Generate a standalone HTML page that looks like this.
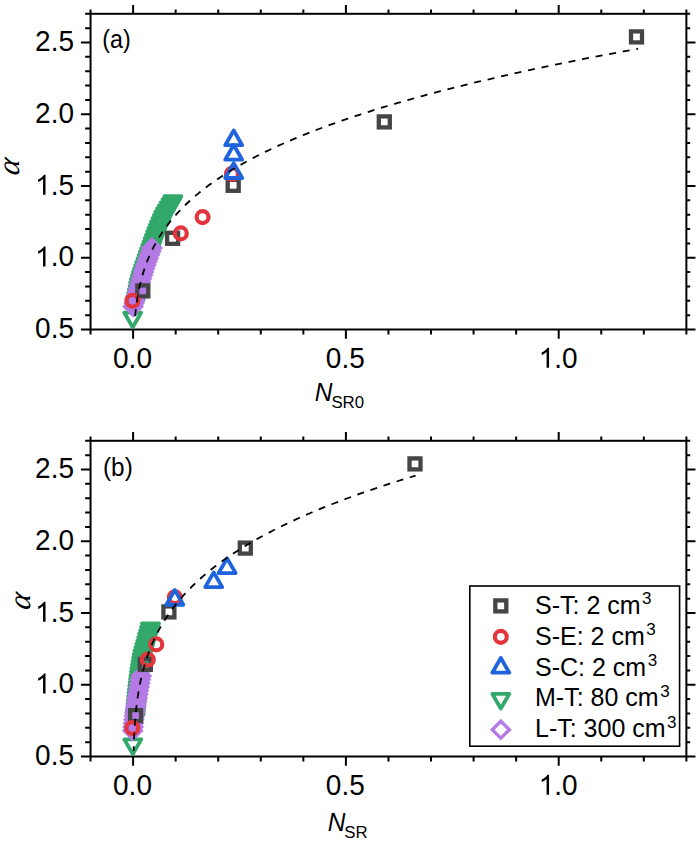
<!DOCTYPE html>
<html><head><meta charset="utf-8"><style>html,body{margin:0;padding:0;background:#fff;width:700px;height:843px;overflow:hidden}svg{display:block}</style></head><body>
<svg width="700" height="843" viewBox="0 0 700 843">
<style>.tl{font-family:"Liberation Sans",sans-serif;font-size:28px;fill:#000}.lg{font-family:"Liberation Sans",sans-serif;font-size:25px;fill:#000}</style>
<rect width="700" height="843" fill="#fff"/>
<rect x="90.54" y="13.80" width="595.84" height="315.70" fill="none" stroke="#000" stroke-width="2.0"/>
<path d="M90.54 329.50v5 M90.54 13.80v-4.3 M133.10 329.50v9.2 M133.10 13.80v-8.7 M175.66 329.50v5 M175.66 13.80v-4.3 M218.22 329.50v5 M218.22 13.80v-4.3 M260.78 329.50v5 M260.78 13.80v-4.3 M303.34 329.50v5 M303.34 13.80v-4.3 M345.90 329.50v9.2 M345.90 13.80v-8.7 M388.46 329.50v5 M388.46 13.80v-4.3 M431.02 329.50v5 M431.02 13.80v-4.3 M473.58 329.50v5 M473.58 13.80v-4.3 M516.14 329.50v5 M516.14 13.80v-4.3 M558.70 329.50v9.2 M558.70 13.80v-8.7 M601.26 329.50v5 M601.26 13.80v-4.3 M643.82 329.50v5 M643.82 13.80v-4.3 M686.38 329.50v5 M686.38 13.80v-4.3 M90.54 329.50h-9.6 M686.38 329.50h9.1 M90.54 315.15h-5.4 M686.38 315.15h3.8 M90.54 300.80h-5.4 M686.38 300.80h3.8 M90.54 286.45h-5.4 M686.38 286.45h3.8 M90.54 272.10h-5.4 M686.38 272.10h3.8 M90.54 257.75h-9.6 M686.38 257.75h9.1 M90.54 243.40h-5.4 M686.38 243.40h3.8 M90.54 229.05h-5.4 M686.38 229.05h3.8 M90.54 214.70h-5.4 M686.38 214.70h3.8 M90.54 200.35h-5.4 M686.38 200.35h3.8 M90.54 186.00h-9.6 M686.38 186.00h9.1 M90.54 171.65h-5.4 M686.38 171.65h3.8 M90.54 157.30h-5.4 M686.38 157.30h3.8 M90.54 142.95h-5.4 M686.38 142.95h3.8 M90.54 128.60h-5.4 M686.38 128.60h3.8 M90.54 114.25h-9.6 M686.38 114.25h9.1 M90.54 99.90h-5.4 M686.38 99.90h3.8 M90.54 85.55h-5.4 M686.38 85.55h3.8 M90.54 71.20h-5.4 M686.38 71.20h3.8 M90.54 56.85h-5.4 M686.38 56.85h3.8 M90.54 42.50h-9.6 M686.38 42.50h9.1 M90.54 28.15h-5.4 M686.38 28.15h3.8 M90.54 13.80h-5.4 M686.38 13.80h3.8" stroke="#000" stroke-width="2.0" fill="none"/>
<text transform="translate(35.08,338.20) scale(1,1.04)" class="tl">0.5</text>
<path transform="translate(35.08,266.45) scale(0.01367,-0.01367)" d="M763 0L583 0L583 1147C540 1106 483 1065 413 1024C342 983 279 952 223 931L223 1105C324 1152 412 1210 487 1277C562 1344 615 1407 646 1466L763 1466Z" fill="#000"/>
<text transform="translate(50.65,266.45) scale(1,1.04)" class="tl">.0</text>
<path transform="translate(35.08,194.70) scale(0.01367,-0.01367)" d="M763 0L583 0L583 1147C540 1106 483 1065 413 1024C342 983 279 952 223 931L223 1105C324 1152 412 1210 487 1277C562 1344 615 1407 646 1466L763 1466Z" fill="#000"/>
<text transform="translate(50.65,194.70) scale(1,1.04)" class="tl">.5</text>
<text transform="translate(35.08,122.95) scale(1,1.04)" class="tl">2.0</text>
<text transform="translate(35.08,51.20) scale(1,1.04)" class="tl">2.5</text>
<text transform="translate(113.04,367.70) scale(1,1.04)" class="tl">0.0</text>
<text transform="translate(325.84,367.70) scale(1,1.04)" class="tl">0.5</text>
<path transform="translate(538.64,367.70) scale(0.01367,-0.01367)" d="M763 0L583 0L583 1147C540 1106 483 1065 413 1024C342 983 279 952 223 931L223 1105C324 1152 412 1210 487 1277C562 1344 615 1407 646 1466L763 1466Z" fill="#000"/>
<text transform="translate(554.21,367.70) scale(1,1.04)" class="tl">.0</text>
<rect x="90.54" y="440.80" width="595.84" height="315.70" fill="none" stroke="#000" stroke-width="2.0"/>
<path d="M90.54 756.50v5 M90.54 440.80v-4.3 M133.10 756.50v9.2 M133.10 440.80v-8.7 M175.66 756.50v5 M175.66 440.80v-4.3 M218.22 756.50v5 M218.22 440.80v-4.3 M260.78 756.50v5 M260.78 440.80v-4.3 M303.34 756.50v5 M303.34 440.80v-4.3 M345.90 756.50v9.2 M345.90 440.80v-8.7 M388.46 756.50v5 M388.46 440.80v-4.3 M431.02 756.50v5 M431.02 440.80v-4.3 M473.58 756.50v5 M473.58 440.80v-4.3 M516.14 756.50v5 M516.14 440.80v-4.3 M558.70 756.50v9.2 M558.70 440.80v-8.7 M601.26 756.50v5 M601.26 440.80v-4.3 M643.82 756.50v5 M643.82 440.80v-4.3 M686.38 756.50v5 M686.38 440.80v-4.3 M90.54 756.50h-9.6 M686.38 756.50h9.1 M90.54 742.15h-5.4 M686.38 742.15h3.8 M90.54 727.80h-5.4 M686.38 727.80h3.8 M90.54 713.45h-5.4 M686.38 713.45h3.8 M90.54 699.10h-5.4 M686.38 699.10h3.8 M90.54 684.75h-9.6 M686.38 684.75h9.1 M90.54 670.40h-5.4 M686.38 670.40h3.8 M90.54 656.05h-5.4 M686.38 656.05h3.8 M90.54 641.70h-5.4 M686.38 641.70h3.8 M90.54 627.35h-5.4 M686.38 627.35h3.8 M90.54 613.00h-9.6 M686.38 613.00h9.1 M90.54 598.65h-5.4 M686.38 598.65h3.8 M90.54 584.30h-5.4 M686.38 584.30h3.8 M90.54 569.95h-5.4 M686.38 569.95h3.8 M90.54 555.60h-5.4 M686.38 555.60h3.8 M90.54 541.25h-9.6 M686.38 541.25h9.1 M90.54 526.90h-5.4 M686.38 526.90h3.8 M90.54 512.55h-5.4 M686.38 512.55h3.8 M90.54 498.20h-5.4 M686.38 498.20h3.8 M90.54 483.85h-5.4 M686.38 483.85h3.8 M90.54 469.50h-9.6 M686.38 469.50h9.1 M90.54 455.15h-5.4 M686.38 455.15h3.8 M90.54 440.80h-5.4 M686.38 440.80h3.8" stroke="#000" stroke-width="2.0" fill="none"/>
<text transform="translate(35.08,765.20) scale(1,1.04)" class="tl">0.5</text>
<path transform="translate(35.08,693.45) scale(0.01367,-0.01367)" d="M763 0L583 0L583 1147C540 1106 483 1065 413 1024C342 983 279 952 223 931L223 1105C324 1152 412 1210 487 1277C562 1344 615 1407 646 1466L763 1466Z" fill="#000"/>
<text transform="translate(50.65,693.45) scale(1,1.04)" class="tl">.0</text>
<path transform="translate(35.08,621.70) scale(0.01367,-0.01367)" d="M763 0L583 0L583 1147C540 1106 483 1065 413 1024C342 983 279 952 223 931L223 1105C324 1152 412 1210 487 1277C562 1344 615 1407 646 1466L763 1466Z" fill="#000"/>
<text transform="translate(50.65,621.70) scale(1,1.04)" class="tl">.5</text>
<text transform="translate(35.08,549.95) scale(1,1.04)" class="tl">2.0</text>
<text transform="translate(35.08,478.20) scale(1,1.04)" class="tl">2.5</text>
<text transform="translate(113.04,794.70) scale(1,1.04)" class="tl">0.0</text>
<text transform="translate(325.84,794.70) scale(1,1.04)" class="tl">0.5</text>
<path transform="translate(538.64,794.70) scale(0.01367,-0.01367)" d="M763 0L583 0L583 1147C540 1106 483 1065 413 1024C342 983 279 952 223 931L223 1105C324 1152 412 1210 487 1277C562 1344 615 1407 646 1466L763 1466Z" fill="#000"/>
<text transform="translate(554.21,794.70) scale(1,1.04)" class="tl">.0</text>
<path d="M132.70 327.30L141.19 312.60L124.21 312.60Z" fill="none" stroke="#32a86a" stroke-width="3.8" stroke-linejoin="round"/>
<path d="M135.00 314.60L143.49 299.90L126.51 299.90Z" fill="#32a86a" stroke="#32a86a" stroke-width="3.8" stroke-linejoin="round"/><path d="M135.80 311.11L144.29 296.41L127.32 296.41Z" fill="#32a86a" stroke="#32a86a" stroke-width="3.8" stroke-linejoin="round"/><path d="M136.61 307.62L145.09 292.92L128.12 292.92Z" fill="#32a86a" stroke="#32a86a" stroke-width="3.8" stroke-linejoin="round"/><path d="M137.39 304.13L145.87 289.43L128.90 289.43Z" fill="#32a86a" stroke="#32a86a" stroke-width="3.8" stroke-linejoin="round"/><path d="M138.02 300.60L146.51 285.90L129.53 285.90Z" fill="#32a86a" stroke="#32a86a" stroke-width="3.8" stroke-linejoin="round"/><path d="M138.65 297.08L147.14 282.38L130.17 282.38Z" fill="#32a86a" stroke="#32a86a" stroke-width="3.8" stroke-linejoin="round"/><path d="M139.40 293.58L147.89 278.88L130.91 278.88Z" fill="#32a86a" stroke="#32a86a" stroke-width="3.8" stroke-linejoin="round"/><path d="M140.41 290.15L148.90 275.45L131.93 275.45Z" fill="#32a86a" stroke="#32a86a" stroke-width="3.8" stroke-linejoin="round"/><path d="M141.42 286.71L149.91 272.01L132.94 272.01Z" fill="#32a86a" stroke="#32a86a" stroke-width="3.8" stroke-linejoin="round"/><path d="M142.50 283.30L150.99 268.60L134.01 268.60Z" fill="#32a86a" stroke="#32a86a" stroke-width="3.8" stroke-linejoin="round"/><path d="M143.63 279.90L152.12 265.20L135.15 265.20Z" fill="#32a86a" stroke="#32a86a" stroke-width="3.8" stroke-linejoin="round"/><path d="M144.76 276.51L153.25 261.81L136.28 261.81Z" fill="#32a86a" stroke="#32a86a" stroke-width="3.8" stroke-linejoin="round"/><path d="M145.95 273.13L154.43 258.43L137.46 258.43Z" fill="#32a86a" stroke="#32a86a" stroke-width="3.8" stroke-linejoin="round"/><path d="M147.15 269.75L155.63 255.05L138.66 255.05Z" fill="#32a86a" stroke="#32a86a" stroke-width="3.8" stroke-linejoin="round"/><path d="M148.35 266.38L156.84 251.68L139.86 251.68Z" fill="#32a86a" stroke="#32a86a" stroke-width="3.8" stroke-linejoin="round"/><path d="M149.55 263.01L158.04 248.31L141.06 248.31Z" fill="#32a86a" stroke="#32a86a" stroke-width="3.8" stroke-linejoin="round"/><path d="M150.75 259.63L159.24 244.93L142.26 244.93Z" fill="#32a86a" stroke="#32a86a" stroke-width="3.8" stroke-linejoin="round"/><path d="M151.97 256.27L160.45 241.57L143.48 241.57Z" fill="#32a86a" stroke="#32a86a" stroke-width="3.8" stroke-linejoin="round"/><path d="M153.18 252.90L161.67 238.20L144.69 238.20Z" fill="#32a86a" stroke="#32a86a" stroke-width="3.8" stroke-linejoin="round"/><path d="M154.39 249.53L162.88 234.83L145.91 234.83Z" fill="#32a86a" stroke="#32a86a" stroke-width="3.8" stroke-linejoin="round"/><path d="M155.61 246.16L164.10 231.46L147.12 231.46Z" fill="#32a86a" stroke="#32a86a" stroke-width="3.8" stroke-linejoin="round"/><path d="M156.82 242.79L165.31 228.09L148.34 228.09Z" fill="#32a86a" stroke="#32a86a" stroke-width="3.8" stroke-linejoin="round"/><path d="M158.20 239.49L166.69 224.79L149.71 224.79Z" fill="#32a86a" stroke="#32a86a" stroke-width="3.8" stroke-linejoin="round"/><path d="M159.61 236.20L168.09 221.50L151.12 221.50Z" fill="#32a86a" stroke="#32a86a" stroke-width="3.8" stroke-linejoin="round"/><path d="M161.01 232.90L169.50 218.20L152.52 218.20Z" fill="#32a86a" stroke="#32a86a" stroke-width="3.8" stroke-linejoin="round"/><path d="M162.42 229.61L170.90 214.91L153.93 214.91Z" fill="#32a86a" stroke="#32a86a" stroke-width="3.8" stroke-linejoin="round"/><path d="M163.82 226.32L172.31 211.62L155.34 211.62Z" fill="#32a86a" stroke="#32a86a" stroke-width="3.8" stroke-linejoin="round"/><path d="M165.52 223.17L174.01 208.47L157.03 208.47Z" fill="#32a86a" stroke="#32a86a" stroke-width="3.8" stroke-linejoin="round"/><path d="M167.36 220.10L175.85 205.40L158.88 205.40Z" fill="#32a86a" stroke="#32a86a" stroke-width="3.8" stroke-linejoin="round"/><path d="M169.21 217.04L177.70 202.34L160.72 202.34Z" fill="#32a86a" stroke="#32a86a" stroke-width="3.8" stroke-linejoin="round"/><path d="M171.05 213.97L179.54 199.27L162.57 199.27Z" fill="#32a86a" stroke="#32a86a" stroke-width="3.8" stroke-linejoin="round"/><path d="M172.90 210.90L181.39 196.20L164.41 196.20Z" fill="#32a86a" stroke="#32a86a" stroke-width="3.8" stroke-linejoin="round"/>
<path d="M133.10 298.00L141.60 306.50L133.10 315.00L124.60 306.50Z" fill="#b47ae6" stroke="#b47ae6" stroke-width="3.4"/><path d="M134.16 294.54L142.66 303.04L134.16 311.54L125.66 303.04Z" fill="#b47ae6" stroke="#b47ae6" stroke-width="3.4"/><path d="M135.21 291.08L143.71 299.58L135.21 308.08L126.71 299.58Z" fill="#b47ae6" stroke="#b47ae6" stroke-width="3.4"/><path d="M136.27 287.62L144.77 296.12L136.27 304.62L127.77 296.12Z" fill="#b47ae6" stroke="#b47ae6" stroke-width="3.4"/><path d="M137.32 284.16L145.82 292.66L137.32 301.16L128.82 292.66Z" fill="#b47ae6" stroke="#b47ae6" stroke-width="3.4"/><path d="M138.38 280.70L146.88 289.20L138.38 297.70L129.88 289.20Z" fill="#b47ae6" stroke="#b47ae6" stroke-width="3.4"/><path d="M139.43 277.24L147.93 285.74L139.43 294.24L130.93 285.74Z" fill="#b47ae6" stroke="#b47ae6" stroke-width="3.4"/><path d="M140.47 273.77L148.97 282.27L140.47 290.77L131.97 282.27Z" fill="#b47ae6" stroke="#b47ae6" stroke-width="3.4"/><path d="M141.51 270.31L150.01 278.81L141.51 287.31L133.01 278.81Z" fill="#b47ae6" stroke="#b47ae6" stroke-width="3.4"/><path d="M142.55 266.84L151.05 275.34L142.55 283.84L134.05 275.34Z" fill="#b47ae6" stroke="#b47ae6" stroke-width="3.4"/><path d="M143.59 263.38L152.09 271.88L143.59 280.38L135.09 271.88Z" fill="#b47ae6" stroke="#b47ae6" stroke-width="3.4"/><path d="M144.63 259.92L153.13 268.42L144.63 276.92L136.13 268.42Z" fill="#b47ae6" stroke="#b47ae6" stroke-width="3.4"/><path d="M145.86 256.51L154.36 265.01L145.86 273.51L137.36 265.01Z" fill="#b47ae6" stroke="#b47ae6" stroke-width="3.4"/><path d="M147.09 253.11L155.59 261.61L147.09 270.11L138.59 261.61Z" fill="#b47ae6" stroke="#b47ae6" stroke-width="3.4"/><path d="M148.32 249.71L156.82 258.21L148.32 266.71L139.82 258.21Z" fill="#b47ae6" stroke="#b47ae6" stroke-width="3.4"/><path d="M149.54 246.31L158.04 254.81L149.54 263.31L141.04 254.81Z" fill="#b47ae6" stroke="#b47ae6" stroke-width="3.4"/><path d="M150.77 242.90L159.27 251.40L150.77 259.90L142.27 251.40Z" fill="#b47ae6" stroke="#b47ae6" stroke-width="3.4"/><path d="M152.00 239.50L160.50 248.00L152.00 256.50L143.50 248.00Z" fill="#b47ae6" stroke="#b47ae6" stroke-width="3.4"/>
<rect x="631.00" y="31.40" width="11.0" height="11.0" fill="none" stroke="#454545" stroke-width="4.3"/>
<rect x="378.80" y="116.40" width="11.0" height="11.0" fill="none" stroke="#454545" stroke-width="4.3"/>
<rect x="227.70" y="179.80" width="11.0" height="11.0" fill="none" stroke="#454545" stroke-width="4.3"/>
<rect x="167.10" y="232.80" width="11.0" height="11.0" fill="none" stroke="#454545" stroke-width="4.3"/>
<rect x="137.30" y="285.40" width="11.0" height="11.0" fill="none" stroke="#454545" stroke-width="4.3"/>
<circle cx="232.00" cy="173.80" r="5.95" fill="none" stroke="#e3353d" stroke-width="4.2"/>
<circle cx="202.60" cy="217.10" r="5.95" fill="none" stroke="#e3353d" stroke-width="4.2"/>
<circle cx="180.80" cy="233.40" r="5.95" fill="none" stroke="#e3353d" stroke-width="4.2"/>
<circle cx="132.50" cy="300.80" r="5.95" fill="none" stroke="#e3353d" stroke-width="4.2"/>
<path d="M233.70 130.50L242.19 145.20L225.21 145.20Z" fill="none" stroke="#1f64dc" stroke-width="3.8" stroke-linejoin="round"/>
<path d="M233.70 145.00L242.19 159.70L225.21 159.70Z" fill="none" stroke="#1f64dc" stroke-width="3.8" stroke-linejoin="round"/>
<path d="M233.70 163.30L242.19 178.00L225.21 178.00Z" fill="none" stroke="#1f64dc" stroke-width="3.8" stroke-linejoin="round"/>
<path d="M637.98 48.76 L630.66 50.09 L623.45 51.41 L616.34 52.73 L609.34 54.04 L602.44 55.34 L595.63 56.65 L588.93 57.94 L582.32 59.24 L575.81 60.52 L569.39 61.81 L563.07 63.08 L556.84 64.36 L550.70 65.63 L544.64 66.89 L538.68 68.15 L532.80 69.40 L527.01 70.65 L521.30 71.90 L515.67 73.14 L510.13 74.37 L504.66 75.60 L499.27 76.83 L493.97 78.05 L488.74 79.26 L483.58 80.48 L478.50 81.68 L473.50 82.89 L468.56 84.09 L463.70 85.28 L458.91 86.47 L454.19 87.65 L449.53 88.83 L444.95 90.01 L440.43 91.18 L435.97 92.35 L431.58 93.51 L427.25 94.67 L422.99 95.82 L418.79 96.97 L414.65 98.12 L410.57 99.26 L406.55 100.40 L402.58 101.53 L398.68 102.66 L394.83 103.78 L391.03 104.90 L387.29 106.01 L383.61 107.13 L379.98 108.23 L376.40 109.34 L372.87 110.43 L369.40 111.53 L365.97 112.62 L362.60 113.71 L359.27 114.79 L355.99 115.87 L352.76 116.94 L349.58 118.01 L346.44 119.08 L343.35 120.14 L340.30 121.20 L337.30 122.25 L334.34 123.30 L331.42 124.35 L328.55 125.39 L325.71 126.43 L322.92 127.46 L320.17 128.49 L317.46 129.52 L314.79 130.54 L312.15 131.56 L309.56 132.57 L307.00 133.58 L304.48 134.59 L302.00 135.59 L299.55 136.59 L297.14 137.59 L294.76 138.58 L292.42 139.57 L290.11 140.55 L287.83 141.54 L285.59 142.51 L283.38 143.49 L281.20 144.46 L279.05 145.42 L276.94 146.39 L274.85 147.34 L272.80 148.30 L270.77 149.25 L268.78 150.20 L266.81 151.14 L264.87 152.08 L262.96 153.02 L261.08 153.96 L259.23 154.89 L257.40 155.81 L255.60 156.74 L253.82 157.66 L252.07 158.57 L250.35 159.49 L248.65 160.40 L246.97 161.30 L245.32 162.20 L243.69 163.10 L242.09 164.00 L240.51 164.89 L238.96 165.78 L237.42 166.67 L235.91 167.55 L234.42 168.43 L232.95 169.31 L231.50 170.18 L230.08 171.05 L228.67 171.91 L227.29 172.78 L225.92 173.64 L224.58 174.49 L223.25 175.34 L221.94 176.19 L220.66 177.04 L219.39 177.88 L218.14 178.72 L216.90 179.56 L215.69 180.40 L214.49 181.23 L213.31 182.05 L212.15 182.88 L211.00 183.70 L209.87 184.52 L208.76 185.33 L207.66 186.15 L206.58 186.95 L205.52 187.76 L204.47 188.56 L203.43 189.36 L202.41 190.16 L201.41 190.95 L200.42 191.74 L199.44 192.53 L198.48 193.32 L197.54 194.10 L196.60 194.88 L195.68 195.66 L194.77 196.43 L193.88 197.20 L193.00 197.97 L192.13 198.73 L191.27 199.49 L190.43 200.25 L189.60 201.01 L188.78 201.76 L187.97 202.51 L187.18 203.26 L186.40 204.00 L185.62 204.74 L184.86 205.48 L184.11 206.22 L183.37 206.95 L182.64 207.68 L181.93 208.41 L181.22 209.14 L180.52 209.86 L179.83 210.58 L179.16 211.29 L178.49 212.01 L177.83 212.72 L177.18 213.43 L176.54 214.14 L175.91 214.84 L175.29 215.54 L174.68 216.24 L174.08 216.93 L173.48 217.63 L172.90 218.32 L172.32 219.00 L171.75 219.69 L171.19 220.37 L170.64 221.05 L170.10 221.73 L169.56 222.41 L169.03 223.08 L168.51 223.75 L168.00 224.41 L167.49 225.08 L166.99 225.74 L166.50 226.40 L166.02 227.06 L165.54 227.71 L165.07 228.37 L164.61 229.02 L164.15 229.66 L163.70 230.31 L163.26 230.95 L162.82 231.59 L162.39 232.23 L161.97 232.86 L161.55 233.50 L161.13 234.13 L160.73 234.76 L160.33 235.38 L159.93 236.00 L159.54 236.63 L159.16 237.24 L158.78 237.86 L158.41 238.48 L158.04 239.09 L157.68 239.70 L157.33 240.30 L156.97 240.91 L156.63 241.51 L156.29 242.11 L155.95 242.71 L155.62 243.31 L155.29 243.90 L154.97 244.49 L154.66 245.08 L154.34 245.67 L154.04 246.25 L153.73 246.83 L153.43 247.41 L153.14 247.99 L152.85 248.57 L152.56 249.14 L152.28 249.71 L152.00 250.28 L151.73 250.85 L151.46 251.41 L151.19 251.98 L150.93 252.54 L150.67 253.10 L150.42 253.65 L150.16 254.21 L149.92 254.76 L149.67 255.31 L149.43 255.86 L149.20 256.41 L148.96 256.95 L148.73 257.49 L148.51 258.03 L148.28 258.57 L148.06 259.11 L147.85 259.64 L147.63 260.17 L147.42 260.70 L147.21 261.23 L147.01 261.76 L146.81 262.28 L146.61 262.80 L146.41 263.32 L146.22 263.84 L146.03 264.36 L145.84 264.87 L145.66 265.38 L145.48 265.89 L145.30 266.40 L145.12 266.91 L144.95 267.41 L144.77 267.92 L144.61 268.42 L144.44 268.92 L144.27 269.41 L144.11 269.91 L143.95 270.40 L143.80 270.89 L143.64 271.38 L143.49 271.87 L143.34 272.36 L143.19 272.84 L143.04 273.32 L142.90 273.80 L142.76 274.28 L142.62 274.76 L142.48 275.23 L142.34 275.71 L142.21 276.18 L142.08 276.65 L141.95 277.11 L141.82 277.58 L141.69 278.05 L141.57 278.51 L141.44 278.97 L141.32 279.43 L141.20 279.89 L141.09 280.34 L140.97 280.79 L140.86 281.25 L140.74 281.70 L140.63 282.15 L140.52 282.59 L140.42 283.04 L140.31 283.48 L140.21 283.92 L140.10 284.37 L140.00 284.80 L139.90 285.24 L139.80 285.68 L139.71 286.11 L139.61 286.54 L139.52 286.97 L139.42 287.40 L139.33 287.83 L139.24 288.26 L139.15 288.68 L139.06 289.10 L138.98 289.52 L138.89 289.94 L138.81 290.36 L138.73 290.78 L138.64 291.19 L138.56 291.60 L138.48 292.01 L138.41 292.42 L138.33 292.83 L138.25 293.24 L138.18 293.65 L138.11 294.05 L138.03 294.45 L137.96 294.85 L137.89 295.25 L137.82 295.65 L137.75 296.05 L137.69 296.44 L137.62 296.83 L137.55 297.23 L137.49 297.62 L137.43 298.00 L137.36 298.39 L137.30 298.78 L137.24 299.16 L137.18 299.54 L137.12 299.93 L137.06 300.31 L137.01 300.69 L136.95 301.06 L136.89 301.44 L136.84 301.81 L136.78 302.19 L136.73 302.56 L136.68 302.93 L136.63 303.30 L136.57 303.66 L136.52 304.03 L136.47 304.39 L136.43 304.76 L136.38 305.12 L136.33 305.48 L136.28 305.84 L136.24 306.20 L136.19 306.55 L136.15 306.91 L136.10 307.26 L136.06 307.61 L136.02 307.97 L135.97 308.32 L135.93 308.66 L135.89 309.01 L135.85 309.36 L135.81 309.70 L135.77 310.05 L135.73 310.39 L135.69 310.73 L135.66 311.07 L135.62 311.41 L135.58 311.74 L135.55 312.08 L135.51 312.41 L135.48 312.74 L135.44 313.08 L135.41 313.41 L135.38 313.74 L135.34 314.06 L135.31 314.39 L135.28 314.72 L135.25 315.04 L135.22 315.36 L135.18 315.69 L135.15 316.01 L135.12 316.33 L135.10 316.64 L135.07 316.96 L135.04 317.28 L135.01 317.59 L134.98 317.91 L134.95 318.22 L134.93 318.53 L134.90 318.84 L134.88 319.15 L134.85 319.46 L134.82 319.76 L134.80 320.07 L134.77 320.37 L134.75 320.67 L134.73 320.98 L134.70 321.28 L134.68 321.58 L134.66 321.88 L134.63 322.17 L134.61 322.47 L134.59 322.76" fill="none" stroke="#000" stroke-width="1.8" stroke-dasharray="7 6.8" stroke-dashoffset="5.3"/>
<path d="M132.80 754.10L141.29 739.40L124.31 739.40Z" fill="none" stroke="#32a86a" stroke-width="3.8" stroke-linejoin="round"/>
<path d="M135.30 728.60L143.79 713.90L126.81 713.90Z" fill="#32a86a" stroke="#32a86a" stroke-width="3.8" stroke-linejoin="round"/><path d="M135.56 725.07L144.05 710.37L127.07 710.37Z" fill="#32a86a" stroke="#32a86a" stroke-width="3.8" stroke-linejoin="round"/><path d="M135.82 721.55L144.30 706.85L127.33 706.85Z" fill="#32a86a" stroke="#32a86a" stroke-width="3.8" stroke-linejoin="round"/><path d="M136.08 718.02L144.56 703.32L127.59 703.32Z" fill="#32a86a" stroke="#32a86a" stroke-width="3.8" stroke-linejoin="round"/><path d="M136.33 714.49L144.82 699.79L127.85 699.79Z" fill="#32a86a" stroke="#32a86a" stroke-width="3.8" stroke-linejoin="round"/><path d="M136.68 710.97L145.17 696.27L128.19 696.27Z" fill="#32a86a" stroke="#32a86a" stroke-width="3.8" stroke-linejoin="round"/><path d="M137.05 707.46L145.54 692.76L128.56 692.76Z" fill="#32a86a" stroke="#32a86a" stroke-width="3.8" stroke-linejoin="round"/><path d="M137.42 703.94L145.91 689.24L128.94 689.24Z" fill="#32a86a" stroke="#32a86a" stroke-width="3.8" stroke-linejoin="round"/><path d="M137.80 700.42L146.28 685.72L129.31 685.72Z" fill="#32a86a" stroke="#32a86a" stroke-width="3.8" stroke-linejoin="round"/><path d="M138.17 696.91L146.65 682.21L129.68 682.21Z" fill="#32a86a" stroke="#32a86a" stroke-width="3.8" stroke-linejoin="round"/><path d="M138.58 693.39L147.07 678.69L130.10 678.69Z" fill="#32a86a" stroke="#32a86a" stroke-width="3.8" stroke-linejoin="round"/><path d="M139.01 689.88L147.49 675.18L130.52 675.18Z" fill="#32a86a" stroke="#32a86a" stroke-width="3.8" stroke-linejoin="round"/><path d="M139.43 686.37L147.91 671.67L130.94 671.67Z" fill="#32a86a" stroke="#32a86a" stroke-width="3.8" stroke-linejoin="round"/><path d="M139.85 682.86L148.34 668.16L131.36 668.16Z" fill="#32a86a" stroke="#32a86a" stroke-width="3.8" stroke-linejoin="round"/><path d="M140.39 679.37L148.87 664.67L131.90 664.67Z" fill="#32a86a" stroke="#32a86a" stroke-width="3.8" stroke-linejoin="round"/><path d="M140.99 675.88L149.48 661.18L132.50 661.18Z" fill="#32a86a" stroke="#32a86a" stroke-width="3.8" stroke-linejoin="round"/><path d="M141.59 672.40L150.08 657.70L133.11 657.70Z" fill="#32a86a" stroke="#32a86a" stroke-width="3.8" stroke-linejoin="round"/><path d="M142.20 668.91L150.69 654.21L133.71 654.21Z" fill="#32a86a" stroke="#32a86a" stroke-width="3.8" stroke-linejoin="round"/><path d="M142.91 665.45L151.40 650.75L134.43 650.75Z" fill="#32a86a" stroke="#32a86a" stroke-width="3.8" stroke-linejoin="round"/><path d="M143.85 662.05L152.34 647.35L135.37 647.35Z" fill="#32a86a" stroke="#32a86a" stroke-width="3.8" stroke-linejoin="round"/><path d="M144.79 658.64L153.28 643.94L136.30 643.94Z" fill="#32a86a" stroke="#32a86a" stroke-width="3.8" stroke-linejoin="round"/><path d="M145.73 655.23L154.22 640.53L137.24 640.53Z" fill="#32a86a" stroke="#32a86a" stroke-width="3.8" stroke-linejoin="round"/><path d="M146.67 651.82L155.15 637.12L138.18 637.12Z" fill="#32a86a" stroke="#32a86a" stroke-width="3.8" stroke-linejoin="round"/><path d="M147.62 648.41L156.11 633.71L139.13 633.71Z" fill="#32a86a" stroke="#32a86a" stroke-width="3.8" stroke-linejoin="round"/><path d="M148.58 645.01L157.07 630.31L140.09 630.31Z" fill="#32a86a" stroke="#32a86a" stroke-width="3.8" stroke-linejoin="round"/><path d="M149.54 641.60L158.03 626.90L141.05 626.90Z" fill="#32a86a" stroke="#32a86a" stroke-width="3.8" stroke-linejoin="round"/><path d="M150.50 638.20L158.99 623.50L142.01 623.50Z" fill="#32a86a" stroke="#32a86a" stroke-width="3.8" stroke-linejoin="round"/>
<path d="M132.80 722.20L141.30 730.70L132.80 739.20L124.30 730.70Z" fill="#b47ae6" stroke="#b47ae6" stroke-width="3.4"/><path d="M133.15 718.52L141.65 727.02L133.15 735.52L124.65 727.02Z" fill="#b47ae6" stroke="#b47ae6" stroke-width="3.4"/><path d="M133.49 714.85L141.99 723.35L133.49 731.85L124.99 723.35Z" fill="#b47ae6" stroke="#b47ae6" stroke-width="3.4"/><path d="M133.84 711.17L142.34 719.67L133.84 728.17L125.34 719.67Z" fill="#b47ae6" stroke="#b47ae6" stroke-width="3.4"/><path d="M134.31 707.51L142.81 716.01L134.31 724.51L125.81 716.01Z" fill="#b47ae6" stroke="#b47ae6" stroke-width="3.4"/><path d="M134.89 703.86L143.39 712.36L134.89 720.86L126.39 712.36Z" fill="#b47ae6" stroke="#b47ae6" stroke-width="3.4"/><path d="M135.47 700.22L143.97 708.72L135.47 717.22L126.97 708.72Z" fill="#b47ae6" stroke="#b47ae6" stroke-width="3.4"/><path d="M136.04 696.57L144.54 705.07L136.04 713.57L127.54 705.07Z" fill="#b47ae6" stroke="#b47ae6" stroke-width="3.4"/><path d="M136.62 692.92L145.12 701.42L136.62 709.92L128.12 701.42Z" fill="#b47ae6" stroke="#b47ae6" stroke-width="3.4"/><path d="M137.23 689.28L145.73 697.78L137.23 706.28L128.73 697.78Z" fill="#b47ae6" stroke="#b47ae6" stroke-width="3.4"/><path d="M137.89 685.65L146.39 694.15L137.89 702.65L129.39 694.15Z" fill="#b47ae6" stroke="#b47ae6" stroke-width="3.4"/><path d="M138.56 682.01L147.06 690.51L138.56 699.01L130.06 690.51Z" fill="#b47ae6" stroke="#b47ae6" stroke-width="3.4"/><path d="M139.23 678.38L147.73 686.88L139.23 695.38L130.73 686.88Z" fill="#b47ae6" stroke="#b47ae6" stroke-width="3.4"/><path d="M139.90 674.75L148.40 683.25L139.90 691.75L131.40 683.25Z" fill="#b47ae6" stroke="#b47ae6" stroke-width="3.4"/><path d="M140.58 671.12L149.08 679.62L140.58 688.12L132.08 679.62Z" fill="#b47ae6" stroke="#b47ae6" stroke-width="3.4"/><path d="M141.30 667.50L149.80 676.00L141.30 684.50L132.80 676.00Z" fill="#b47ae6" stroke="#b47ae6" stroke-width="3.4"/>
<rect x="409.50" y="458.40" width="11.0" height="11.0" fill="none" stroke="#454545" stroke-width="4.3"/>
<rect x="239.80" y="542.60" width="11.0" height="11.0" fill="none" stroke="#454545" stroke-width="4.3"/>
<rect x="163.40" y="606.40" width="11.0" height="11.0" fill="none" stroke="#454545" stroke-width="4.3"/>
<rect x="139.80" y="658.90" width="11.0" height="11.0" fill="none" stroke="#454545" stroke-width="4.3"/>
<rect x="130.10" y="710.10" width="11.0" height="11.0" fill="none" stroke="#454545" stroke-width="4.3"/>
<circle cx="174.80" cy="597.20" r="5.95" fill="none" stroke="#e3353d" stroke-width="4.2"/>
<circle cx="156.30" cy="644.40" r="5.95" fill="none" stroke="#e3353d" stroke-width="4.2"/>
<circle cx="147.80" cy="659.60" r="5.95" fill="none" stroke="#e3353d" stroke-width="4.2"/>
<circle cx="132.30" cy="728.00" r="5.95" fill="none" stroke="#e3353d" stroke-width="4.2"/>
<path d="M227.10 558.35L235.59 573.05L218.61 573.05Z" fill="none" stroke="#1f64dc" stroke-width="3.8" stroke-linejoin="round"/>
<path d="M213.70 572.40L222.19 587.10L205.21 587.10Z" fill="none" stroke="#1f64dc" stroke-width="3.8" stroke-linejoin="round"/>
<path d="M174.80 590.05L183.29 604.75L166.31 604.75Z" fill="none" stroke="#1f64dc" stroke-width="3.8" stroke-linejoin="round"/>
<path d="M415.55 475.66 L411.12 477.00 L406.75 478.33 L402.45 479.66 L398.22 480.99 L394.06 482.31 L389.96 483.63 L385.93 484.94 L381.96 486.24 L378.05 487.54 L374.21 488.84 L370.42 490.13 L366.69 491.41 L363.02 492.69 L359.41 493.97 L355.86 495.24 L352.36 496.51 L348.92 497.77 L345.53 499.03 L342.19 500.28 L338.91 501.52 L335.68 502.77 L332.50 504.00 L329.37 505.24 L326.28 506.46 L323.25 507.69 L320.27 508.91 L317.33 510.12 L314.43 511.33 L311.59 512.54 L308.78 513.74 L306.02 514.93 L303.31 516.12 L300.64 517.31 L298.01 518.49 L295.42 519.67 L292.87 520.84 L290.36 522.01 L287.89 523.18 L285.46 524.34 L283.07 525.49 L280.71 526.64 L278.39 527.79 L276.11 528.93 L273.87 530.07 L271.65 531.20 L269.48 532.33 L267.34 533.46 L265.23 534.58 L263.15 535.69 L261.11 536.81 L259.10 537.91 L257.12 539.02 L255.18 540.12 L253.26 541.21 L251.37 542.30 L249.52 543.39 L247.69 544.47 L245.89 545.55 L244.12 546.63 L242.37 547.70 L240.66 548.76 L238.97 549.83 L237.31 550.89 L235.67 551.94 L234.06 552.99 L232.47 554.04 L230.91 555.08 L229.38 556.12 L227.87 557.15 L226.38 558.18 L224.91 559.21 L223.47 560.23 L222.05 561.25 L220.65 562.27 L219.28 563.28 L217.93 564.28 L216.59 565.29 L215.28 566.29 L213.99 567.28 L212.72 568.27 L211.47 569.26 L210.24 570.25 L209.03 571.23 L207.84 572.21 L206.66 573.18 L205.51 574.15 L204.37 575.11 L203.25 576.08 L202.15 577.03 L201.07 577.99 L200.00 578.94 L198.95 579.89 L197.92 580.83 L196.90 581.77 L195.90 582.71 L194.91 583.64 L193.94 584.57 L192.98 585.50 L192.04 586.42 L191.12 587.34 L190.21 588.26 L189.31 589.17 L188.43 590.08 L187.56 590.98 L186.70 591.88 L185.86 592.78 L185.03 593.68 L184.22 594.57 L183.41 595.46 L182.62 596.34 L181.85 597.22 L181.08 598.10 L180.33 598.98 L179.59 599.85 L178.86 600.72 L178.14 601.58 L177.43 602.44 L176.73 603.30 L176.05 604.16 L175.38 605.01 L174.71 605.86 L174.06 606.70 L173.41 607.54 L172.78 608.38 L172.16 609.22 L171.55 610.05 L170.94 610.88 L170.35 611.70 L169.76 612.53 L169.19 613.35 L168.62 614.16 L168.06 614.98 L167.51 615.79 L166.97 616.60 L166.44 617.40 L165.92 618.20 L165.40 619.00 L164.89 619.79 L164.40 620.59 L163.90 621.38 L163.42 622.16 L162.94 622.95 L162.48 623.73 L162.01 624.50 L161.56 625.28 L161.11 626.05 L160.67 626.82 L160.24 627.58 L159.81 628.34 L159.39 629.10 L158.98 629.86 L158.58 630.61 L158.18 631.37 L157.78 632.11 L157.39 632.86 L157.01 633.60 L156.64 634.34 L156.27 635.08 L155.90 635.81 L155.55 636.54 L155.19 637.27 L154.85 638.00 L154.50 638.72 L154.17 639.44 L153.84 640.16 L153.51 640.87 L153.19 641.58 L152.88 642.29 L152.57 643.00 L152.26 643.70 L151.96 644.40 L151.66 645.10 L151.37 645.80 L151.08 646.49 L150.80 647.18 L150.52 647.87 L150.25 648.56 L149.98 649.24 L149.72 649.92 L149.46 650.60 L149.20 651.27 L148.95 651.94 L148.70 652.61 L148.45 653.28 L148.21 653.95 L147.97 654.61 L147.74 655.27 L147.51 655.92 L147.28 656.58 L147.06 657.23 L146.84 657.88 L146.63 658.53 L146.41 659.17 L146.20 659.82 L146.00 660.46 L145.80 661.09 L145.60 661.73 L145.40 662.36 L145.21 662.99 L145.02 663.62 L144.83 664.24 L144.65 664.87 L144.46 665.49 L144.29 666.11 L144.11 666.72 L143.94 667.34 L143.77 667.95 L143.60 668.56 L143.44 669.16 L143.27 669.77 L143.11 670.37 L142.96 670.97 L142.80 671.57 L142.65 672.16 L142.50 672.75 L142.35 673.34 L142.21 673.93 L142.06 674.52 L141.92 675.10 L141.78 675.68 L141.65 676.26 L141.51 676.84 L141.38 677.42 L141.25 677.99 L141.12 678.56 L141.00 679.13 L140.87 679.69 L140.75 680.26 L140.63 680.82 L140.51 681.38 L140.40 681.94 L140.28 682.49 L140.17 683.05 L140.06 683.60 L139.95 684.15 L139.84 684.70 L139.74 685.24 L139.63 685.78 L139.53 686.32 L139.43 686.86 L139.33 687.40 L139.23 687.94 L139.13 688.47 L139.04 689.00 L138.95 689.53 L138.85 690.05 L138.76 690.58 L138.67 691.10 L138.59 691.62 L138.50 692.14 L138.42 692.66 L138.33 693.17 L138.25 693.69 L138.17 694.20 L138.09 694.71 L138.01 695.21 L137.93 695.72 L137.86 696.22 L137.78 696.72 L137.71 697.22 L137.64 697.72 L137.57 698.22 L137.50 698.71 L137.43 699.20 L137.36 699.69 L137.29 700.18 L137.23 700.67 L137.16 701.15 L137.10 701.63 L137.04 702.11 L136.97 702.59 L136.91 703.07 L136.85 703.54 L136.79 704.02 L136.74 704.49 L136.68 704.96 L136.62 705.43 L136.57 705.89 L136.51 706.36 L136.46 706.82 L136.41 707.28 L136.35 707.74 L136.30 708.20 L136.25 708.65 L136.20 709.11 L136.16 709.56 L136.11 710.01 L136.06 710.46 L136.01 710.91 L135.97 711.35 L135.92 711.80 L135.88 712.24 L135.83 712.68 L135.79 713.12 L135.75 713.55 L135.71 713.99 L135.67 714.42 L135.63 714.86 L135.59 715.29 L135.55 715.71 L135.51 716.14 L135.47 716.57 L135.43 716.99 L135.40 717.41 L135.36 717.83 L135.33 718.25 L135.29 718.67 L135.26 719.09 L135.22 719.50 L135.19 719.91 L135.16 720.32 L135.12 720.73 L135.09 721.14 L135.06 721.55 L135.03 721.95 L135.00 722.36 L134.97 722.76 L134.94 723.16 L134.91 723.56 L134.88 723.95 L134.86 724.35 L134.83 724.74 L134.80 725.14 L134.77 725.53 L134.75 725.92 L134.72 726.31 L134.70 726.69 L134.67 727.08 L134.65 727.46 L134.62 727.85 L134.60 728.23 L134.58 728.61 L134.55 728.98 L134.53 729.36 L134.51 729.74 L134.48 730.11 L134.46 730.48 L134.44 730.85 L134.42 731.22 L134.40 731.59 L134.38 731.96 L134.36 732.32 L134.34 732.69 L134.32 733.05 L134.30 733.41 L134.28 733.77 L134.26 734.13 L134.25 734.49 L134.23 734.84 L134.21 735.20 L134.19 735.55 L134.17 735.90 L134.16 736.25 L134.14 736.60 L134.13 736.95 L134.11 737.29 L134.09 737.64 L134.08 737.98 L134.06 738.32 L134.05 738.67 L134.03 739.01 L134.02 739.34 L134.00 739.68 L133.99 740.02 L133.97 740.35 L133.96 740.68 L133.95 741.02 L133.93 741.35 L133.92 741.68 L133.91 742.01 L133.90 742.33 L133.88 742.66 L133.87 742.98 L133.86 743.31 L133.85 743.63 L133.84 743.95 L133.82 744.27 L133.81 744.59 L133.80 744.90 L133.79 745.22 L133.78 745.54 L133.77 745.85 L133.76 746.16 L133.75 746.47 L133.74 746.78 L133.73 747.09 L133.72 747.40 L133.71 747.71 L133.70 748.01 L133.69 748.32 L133.68 748.62 L133.67 748.92 L133.66 749.22 L133.65 749.52 L133.64 749.82 L133.64 750.12 L133.63 750.41 L133.62 750.71 L133.61 751.00" fill="none" stroke="#000" stroke-width="1.8" stroke-dasharray="7 6.8" stroke-dashoffset="1.0"/>
<text transform="translate(102.3,47.6) scale(0.93,1)" class="lg">(a)</text>
<text transform="translate(103.0,475.8) scale(0.975,1)" class="lg">(b)</text>
<text transform="translate(314.85,400.9) scale(1,1.04)" style="font-family:'Liberation Sans',sans-serif;font-size:24.5px;font-style:italic">N</text>
<text x="331.4" y="407.6" style="font-family:'Liberation Sans',sans-serif;font-size:16.8px">SR0</text>
<text transform="translate(327.65,831.4) scale(1,1.04)" style="font-family:'Liberation Sans',sans-serif;font-size:24.5px;font-style:italic">N</text>
<text x="344.2" y="838.2" style="font-family:'Liberation Sans',sans-serif;font-size:16.8px">SR</text>
<text transform="translate(19.0,168.1) rotate(-90) skewX(-12)" text-anchor="middle" style="font-family:'Liberation Serif',serif;font-size:31px;font-style:italic">α</text>
<text transform="translate(30.25,602.65) rotate(-90) skewX(-12)" text-anchor="middle" style="font-family:'Liberation Serif',serif;font-size:31px;font-style:italic">α</text>
<rect x="469.8" y="586.0" width="209.8" height="160.2" fill="#fff" stroke="#000" stroke-width="1.6"/>
<rect x="495.30" y="600.40" width="11.0" height="11.0" fill="none" stroke="#454545" stroke-width="4.3"/>
<text x="535.0" y="613.60" class="lg">S-T: 2 cm<tspan dx="1.5" dy="-9.2" style="font-size:17px">3</tspan></text>
<circle cx="500.80" cy="636.85" r="5.95" fill="none" stroke="#e3353d" stroke-width="4.2"/>
<text x="535.0" y="644.55" class="lg">S-E: 2 cm<tspan dx="1.5" dy="-9.2" style="font-size:17px">3</tspan></text>
<path d="M500.80 658.00L509.29 672.70L492.31 672.70Z" fill="none" stroke="#1f64dc" stroke-width="3.8" stroke-linejoin="round"/>
<text x="535.0" y="675.50" class="lg">S-C: 2 cm<tspan dx="1.5" dy="-9.2" style="font-size:17px">3</tspan></text>
<path d="M500.80 708.55L509.29 693.85L492.31 693.85Z" fill="none" stroke="#32a86a" stroke-width="3.8" stroke-linejoin="round"/>
<text x="535.0" y="706.45" class="lg">M-T: 80 cm<tspan dx="1.5" dy="-9.2" style="font-size:17px">3</tspan></text>
<path d="M500.80 721.20L509.30 729.70L500.80 738.20L492.30 729.70Z" fill="none" stroke="#b47ae6" stroke-width="3.4"/>
<text x="535.0" y="737.40" class="lg">L-T: 300 cm<tspan dx="1.5" dy="-9.2" style="font-size:17px">3</tspan></text>
</svg>
</body></html>
